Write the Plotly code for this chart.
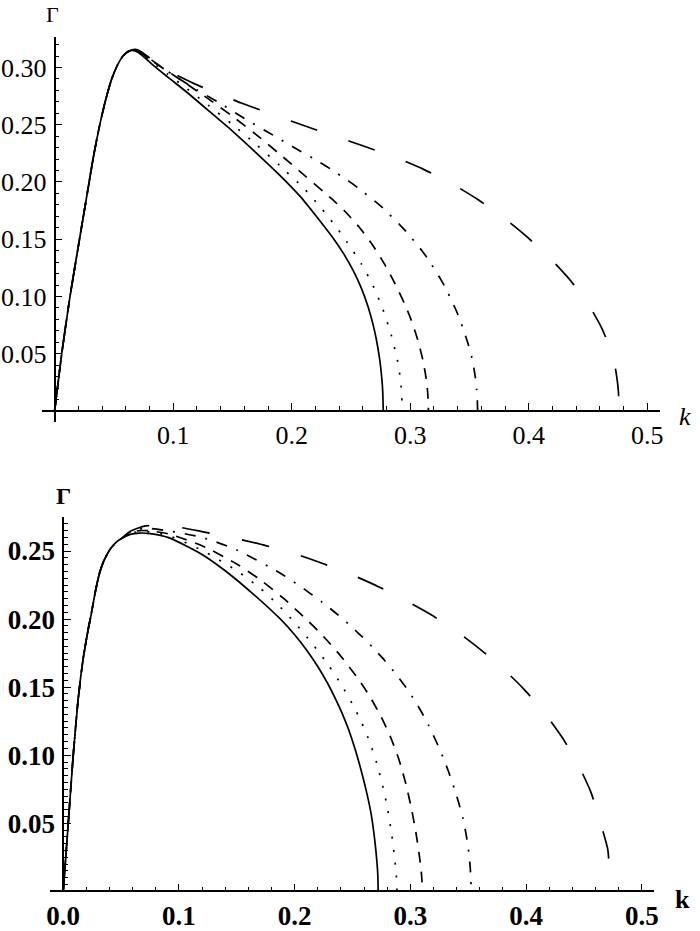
import plotly.graph_objects as go

# ---------------- data ----------------
# Top panel: shared rising branch
top_rise_k = [0, 0.006, 0.013, 0.021, 0.028, 0.033, 0.038, 0.043, 0.048, 0.053, 0.058, 0.063]
top_rise_g = [0, 0.05, 0.10, 0.15, 0.193, 0.2235, 0.2495, 0.2715, 0.2895, 0.302, 0.3105, 0.3145]

top_solid_k = top_rise_k + [0.068, 0.074, 0.0825, 0.095, 0.11, 0.13, 0.15, 0.17, 0.19, 0.2075, 0.2158,
                            0.2242, 0.2353, 0.2436, 0.2519, 0.2589, 0.2644, 0.2686, 0.2714, 0.2736,
                            0.275, 0.2761, 0.2768, 0.2772]
top_solid_g = top_rise_g + [0.3145, 0.3105, 0.3025, 0.292, 0.2797, 0.2622, 0.2445, 0.2255, 0.2058, 0.187, 0.1765,
                            0.1655, 0.1505, 0.1377, 0.1225, 0.1069, 0.0911, 0.0756, 0.0624, 0.0492,
                            0.0385, 0.0272, 0.0164, 0]

top_dot_k = top_rise_k + [0.068, 0.074, 0.0825, 0.095, 0.11, 0.13, 0.15, 0.17, 0.19, 0.2103, 0.2172,
                          0.2256, 0.2325, 0.2394, 0.2464, 0.2589, 0.2686, 0.277, 0.2839, 0.2894,
                          0.2912, 0.2922, 0.2928, 0.2932]
top_dot_g = top_rise_g + [0.3148, 0.3115, 0.3045, 0.2945, 0.2828, 0.2668, 0.2502, 0.2328, 0.2142, 0.1945, 0.1865,
                          0.1763, 0.1674, 0.158, 0.1478, 0.1283, 0.1095, 0.0885, 0.0665, 0.0432,
                          0.0313, 0.022, 0.014, 0]

top_dash_k = top_rise_k + [0.068, 0.074, 0.0825, 0.095, 0.11, 0.13, 0.15, 0.17, 0.19, 0.2103, 0.2269,
                           0.2339, 0.245, 0.2575, 0.2672, 0.2783, 0.2867, 0.295, 0.3006, 0.3061,
                           0.3105, 0.313, 0.3143, 0.315, 0.3153]
top_dash_g = top_rise_g + [0.315, 0.312, 0.3055, 0.297, 0.2866, 0.2724, 0.2574, 0.2414, 0.2242, 0.2062, 0.1915,
                           0.1852, 0.1742, 0.1598, 0.1465, 0.1282, 0.112, 0.094, 0.080, 0.0628,
                           0.045, 0.031, 0.0206, 0.0113, 0]

top_dashdot_k = top_rise_k + [0.068, 0.074, 0.0825, 0.10, 0.12, 0.14, 0.16, 0.18, 0.20, 0.224, 0.2325,
                              0.249, 0.256, 0.2714, 0.277, 0.291, 0.2964, 0.31, 0.3144, 0.3256, 0.3297,
                              0.338, 0.3422, 0.349, 0.352, 0.3547, 0.356, 0.3565, 0.3568]
top_dashdot_g = top_rise_g + [0.3152, 0.3122, 0.306, 0.2935, 0.2805, 0.2685, 0.2555, 0.2435, 0.2313, 0.2170,
                              0.2115, 0.2001, 0.1948, 0.1822, 0.1772, 0.1628, 0.1568, 0.1398, 0.1335,
                              0.1152, 0.1075, 0.0895, 0.079, 0.0578, 0.0465, 0.0307, 0.019, 0.0116, 0]

top_long_k = top_rise_k + [0.068, 0.074, 0.0825, 0.099, 0.1186, 0.146, 0.1575, 0.18, 0.2, 0.225, 0.25,
                           0.27, 0.291, 0.3117, 0.3367, 0.3561, 0.3797, 0.3978, 0.4186, 0.4339, 0.4506,
                           0.4617, 0.4714, 0.4745, 0.4756, 0.4762]
top_long_g = top_rise_g + [0.3158, 0.3132, 0.3065, 0.2955, 0.2855, 0.2738, 0.269, 0.2605, 0.253, 0.244, 0.2352,
                           0.228, 0.220, 0.2108, 0.1975, 0.1853, 0.168, 0.1527, 0.1326, 0.1155, 0.0925,
                           0.072, 0.046, 0.0274, 0.0163, 0]

# Bottom panel: shared rising branch
bot_rise_k = [0, 0.0043, 0.0085, 0.0128, 0.0171, 0.0214, 0.0242, 0.028, 0.0313, 0.035, 0.040, 0.045, 0.050]
bot_rise_g = [0, 0.049, 0.098, 0.140, 0.170, 0.1915, 0.2035, 0.221, 0.2335, 0.2425, 0.2505, 0.2558, 0.259]

bot_solid_k = bot_rise_k + [0.058, 0.066, 0.075, 0.0912, 0.12, 0.14, 0.165, 0.188, 0.200, 0.210, 0.220,
                            0.228, 0.235, 0.2407, 0.2464, 0.2521, 0.2578, 0.2627, 0.2664, 0.2692,
                            0.2712, 0.2719, 0.2722]
bot_solid_g = bot_rise_g + [0.2622, 0.2632, 0.2628, 0.2598, 0.2475, 0.2355, 0.2178, 0.1997, 0.1885, 0.1777,
                            0.1652, 0.1536, 0.142, 0.1315, 0.1194, 0.1049, 0.0879, 0.071, 0.0554, 0.038,
                            0.021, 0.012, 0]

bot_dot_k = bot_rise_k + [0.058, 0.066, 0.075, 0.0912, 0.12, 0.15, 0.17, 0.185, 0.20, 0.215, 0.23, 0.24,
                          0.25, 0.258, 0.265, 0.271, 0.2765, 0.2805, 0.284, 0.2865, 0.2878, 0.2885]
bot_dot_g = bot_rise_g + [0.263, 0.2643, 0.264, 0.2612, 0.2505, 0.2355, 0.2228, 0.2111, 0.1974, 0.1822,
                          0.1652, 0.1523, 0.1375, 0.1238, 0.1094, 0.094, 0.0762, 0.0599, 0.0412, 0.024,
                          0.0125, 0]

bot_dash_k = bot_rise_k + [0.058, 0.066, 0.075, 0.0912, 0.12, 0.15, 0.17, 0.19, 0.21, 0.225, 0.24, 0.255,
                           0.265, 0.275, 0.283, 0.29, 0.296, 0.301, 0.305, 0.308, 0.3097, 0.3106]
bot_dash_g = bot_rise_g + [0.2635, 0.265, 0.2648, 0.2625, 0.2539, 0.2405, 0.229, 0.2155, 0.200, 0.1872,
                           0.1727, 0.156, 0.1431, 0.1278, 0.1131, 0.0972, 0.0794, 0.0606, 0.0423, 0.025,
                           0.012, 0]

bot_dashdot_k = bot_rise_k + [0.058, 0.066, 0.075, 0.0912, 0.12, 0.15, 0.188, 0.208, 0.2236, 0.235, 0.2464,
                              0.2578, 0.2678, 0.2778, 0.2872, 0.2963, 0.3043, 0.310, 0.316, 0.322, 0.328,
                              0.333, 0.338, 0.342, 0.3455, 0.3485, 0.3505, 0.3517, 0.3523, 0.3525]
bot_dashdot_g = bot_rise_g + [0.264, 0.2662, 0.2665, 0.2648, 0.260, 0.2508, 0.2335, 0.2222, 0.2125, 0.2048,
                              0.1965, 0.1875, 0.1789, 0.1696, 0.160, 0.1497, 0.1395, 0.1312, 0.1215,
                              0.1108, 0.099, 0.088, 0.0755, 0.0645, 0.0535, 0.0405, 0.0286, 0.0181,
                              0.009, 0]

bot_long_k = bot_rise_k + [0.058, 0.0712, 0.0983, 0.1197, 0.15, 0.175, 0.2009, 0.2237, 0.2493, 0.272,
                           0.2963, 0.3177, 0.3419, 0.3604, 0.3818, 0.3983, 0.4174, 0.4316, 0.4459,
                           0.4558, 0.4644, 0.4706, 0.4716, 0.4722, 0.4725]
bot_long_g = bot_rise_g + [0.2645, 0.2684, 0.2677, 0.2643, 0.259, 0.254, 0.2478, 0.241, 0.2326, 0.224,
                           0.2135, 0.2033, 0.1898, 0.1778, 0.1622, 0.1484, 0.1295, 0.1126, 0.0916,
                           0.0734, 0.0503, 0.031, 0.0213, 0.0123, 0]

top_xtick_vals = [0.1, 0.2, 0.3, 0.4, 0.5]
top_xtick_text = ["0.1", "0.2", "0.3", "0.4", "0.5"]
top_ytick_vals = [0.05, 0.10, 0.15, 0.20, 0.25, 0.30]
top_ytick_text = ["0.05", "0.10", "0.15", "0.20", "0.25", "0.30"]
bot_xtick_vals = [0.0, 0.1, 0.2, 0.3, 0.4, 0.5]
bot_xtick_text = ["0.0", "0.1", "0.2", "0.3", "0.4", "0.5"]
bot_ytick_vals = [0.05, 0.10, 0.15, 0.20, 0.25]
bot_ytick_text = ["0.05", "0.10", "0.15", "0.20", "0.25"]

# ---------------- figure ----------------
W, H = 700, 931


def px(x):
    return x / W


def py(y):
    return (H - y) / H


styles = [
    ("solid", "solid"),
    ("dot", "2px,11px"),
    ("dash", "11px,9px"),
    ("dashdot", "11px,10px,2px,10px"),
    ("long", "28px,33px"),
]

top_series = [(top_solid_k, top_solid_g), (top_dot_k, top_dot_g), (top_dash_k, top_dash_g),
              (top_dashdot_k, top_dashdot_g), (top_long_k, top_long_g)]
bot_series = [(bot_solid_k, bot_solid_g), (bot_dot_k, bot_dot_g), (bot_dash_k, bot_dash_g),
              (bot_dashdot_k, bot_dashdot_g), (bot_long_k, bot_long_g)]

fig = go.Figure()
for (name, dash), (k, g) in zip(styles, top_series):
    fig.add_trace(go.Scatter(x=k, y=g, mode="lines", name=name, xaxis="x", yaxis="y",
                             line=dict(color="black", width=1.7, dash=dash, shape="spline", smoothing=0.6),
                             showlegend=False))
for (name, dash), (k, g) in zip(styles, bot_series):
    fig.add_trace(go.Scatter(x=k, y=g, mode="lines", name=name, xaxis="x2", yaxis="y2",
                             line=dict(color="black", width=1.7, dash=dash, shape="spline", smoothing=0.6),
                             showlegend=False))

serif = "Times New Roman, Liberation Serif, serif"
top_font = dict(family=serif, size=26, color="black")
bot_font = dict(family=serif, size=27, color="black", weight="bold")

common = dict(showgrid=False, zeroline=False, showline=True, linecolor="black", linewidth=1.6,
              ticks="inside", tickcolor="black", tickwidth=1.3, ticklen=7, tickmode="array",
              fixedrange=True)

fig.update_layout(
    width=W, height=H, margin=dict(l=0, r=0, t=0, b=0),
    paper_bgcolor="white", plot_bgcolor="white",
    xaxis=dict(**common, domain=[px(38), px(664)], range=[-0.011, 0.511], anchor="free", position=py(415),
               tickvals=top_xtick_vals, ticktext=top_xtick_text, tickfont=top_font, ticklabelstandoff=1,
               minor=dict(ticks="inside", dtick=0.02, tick0=0, ticklen=4, tickcolor="black", tickwidth=1)),
    yaxis=dict(**common, domain=[py(427), py(37)], range=[-0.01, 0.327], anchor="free", position=px(51.2),
               tickvals=top_ytick_vals, ticktext=top_ytick_text, tickfont=top_font, ticklabelstandoff=2,
               minor=dict(ticks="inside", dtick=0.01, tick0=0, ticklen=4, tickcolor="black", tickwidth=1)),
    xaxis2=dict(**common, domain=[px(47), px(658)], range=[-0.011, 0.511], anchor="free", position=py(901),
                tickvals=bot_xtick_vals, ticktext=bot_xtick_text, tickfont=bot_font, ticklabelstandoff=0,
                minor=dict(ticks="inside", dtick=0.02, tick0=0, ticklen=4, tickcolor="black", tickwidth=1)),
    yaxis2=dict(**common, domain=[py(901), py(523)], range=[0, 0.2747], anchor="free", position=px(60),
                tickvals=bot_ytick_vals, ticktext=bot_ytick_text, tickfont=bot_font, ticklabelstandoff=2,
                minor=dict(ticks="inside", dtick=0.005, tick0=0, ticklen=4, tickcolor="black", tickwidth=1)),
    annotations=[
        dict(text="Γ", x=px(49), y=py(0), xref="paper", yref="paper", showarrow=False,
             xanchor="center", yanchor="top", font=dict(family=serif, size=22, color="black")),
        dict(text="<i>k</i>", x=px(689), y=py(421), xref="paper", yref="paper", showarrow=False,
             xanchor="center", yanchor="middle", font=dict(family=serif, size=26, color="black")),
        dict(text="<b>Γ</b>", x=px(60), y=py(501), xref="paper", yref="paper", showarrow=False,
             xanchor="center", yanchor="middle", font=dict(family=serif, size=24, color="black")),
        dict(text="<b>k</b>", x=px(686), y=py(909), xref="paper", yref="paper", showarrow=False,
             xanchor="center", yanchor="middle", font=dict(family=serif, size=26, color="black")),
    ],
)

fig.write_html("out.html")
